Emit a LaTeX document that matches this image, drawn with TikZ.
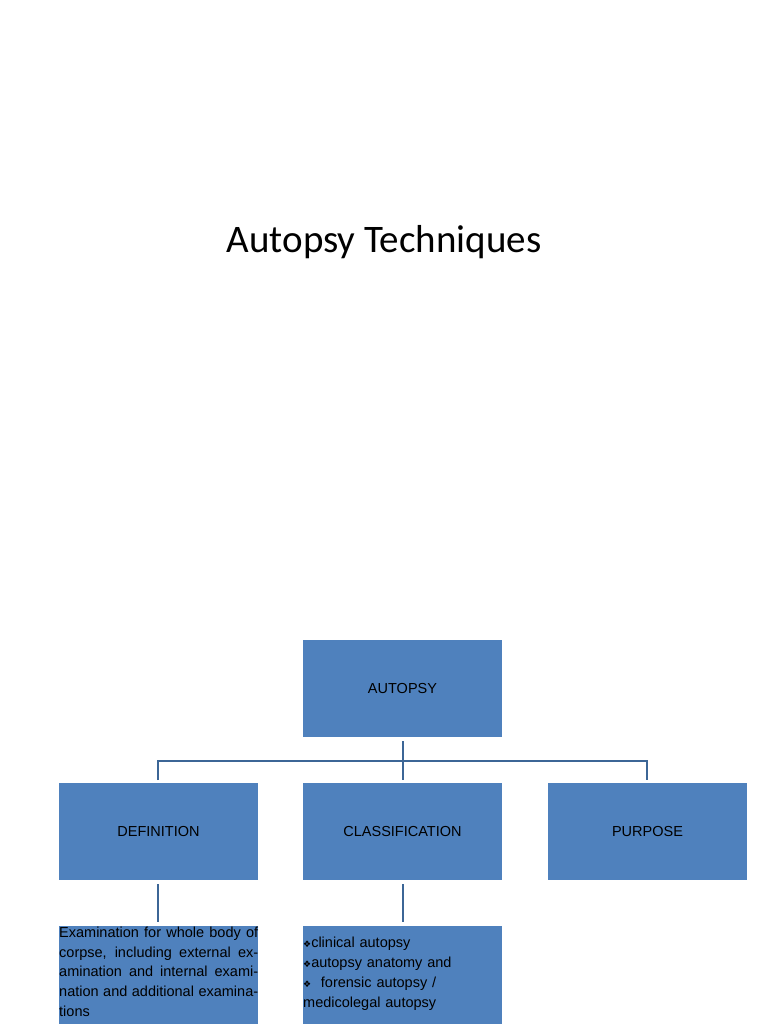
\documentclass[tikz,border=0pt]{standalone}
\usepackage{fontspec}
\setmainfont{Liberation Sans}
\newfontfamily\titlefont{Carlito}
\newfontfamily\symfont{DejaVu Sans}
\definecolor{boxblue}{HTML}{4F81BD}
\definecolor{lineblue}{HTML}{3C6696}
\begin{document}
\begin{tikzpicture}[x=1pt,y=-1pt,
  blk/.style={fill=boxblue,draw=none,minimum width=199pt,minimum height=97pt,inner sep=0pt,font=\fontsize{14.5}{17}\selectfont},
  con/.style={draw=lineblue,line width=1.8pt}]
\useasboundingbox (0,0) rectangle (768,1024);
\fill[white] (0,0) rectangle (768,1024);
\node[font=\titlefont\fontsize{39}{44}\selectfont] (title) at (384,242) {Autopsy Techniques};
\node[blk] (auto) at (402.5,688.5) {AUTOPSY};
\node[blk] (def) at (158.5,831.5) {DEFINITION};
\node[blk] (cls) at (402.5,831.5) {CLASSIFICATION};
\node[blk] (pur) at (647.5,831.5) {PURPOSE};
\fill[boxblue] (59,926) rectangle (258,1030);
\fill[boxblue] (303,926) rectangle (502,1030);
\node[anchor=north west,inner sep=0pt,text width=199pt,align=justify,font=\fontsize{14.5}{19.6}\selectfont] (dtxt) at (59,927)
 {Examination for whole body of corpse, including external examination and internal examination and additional examinations};
\node[anchor=north west,inner sep=0pt,text width=199pt,align=left,font=\fontsize{14.5}{19.8}\selectfont] (ctxt) at (303,937)
 {{\symfont\small ❖}clinical autopsy\\{\symfont\small ❖}autopsy anatomy and\\{\symfont\small ❖}\ \ forensic autopsy /\\medicolegal autopsy};
\coordinate (hl) at (158,761); \coordinate (hr) at (647,761);
\draw[con] (403,741) -- (403,780);
\draw[con] (158,780) -- (hl) -- (hr) -- (647,780);
\draw[con] (158,884) -- (158,922);
\draw[con] (403,884) -- (403,922);
\end{tikzpicture}
\end{document}
